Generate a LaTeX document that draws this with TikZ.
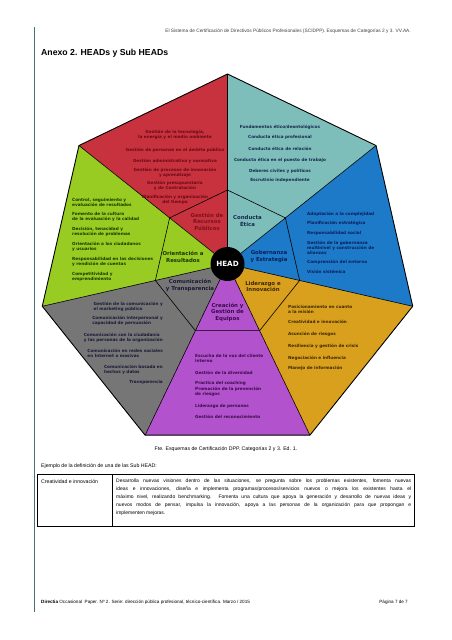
\documentclass[tikz,border=0pt]{standalone}
\usepackage{fontspec}
\setmainfont{Liberation Sans}
\newfontfamily\verd{DejaVu Sans}
\usetikzlibrary{calc}
\definecolor{headred}{RGB}{200,50,62}
\definecolor{headteal}{RGB}{125,190,186}
\definecolor{headblue}{RGB}{28,122,200}
\definecolor{headorange}{RGB}{216,160,28}
\definecolor{headpurple}{RGB}{178,82,204}
\definecolor{headgray}{RGB}{118,118,118}
\definecolor{headgreen}{RGB}{153,204,34}
\definecolor{redtxt}{RGB}{105,10,20}
\definecolor{tealtxt}{RGB}{22,40,78}
\definecolor{bluetxt}{RGB}{10,30,90}
\definecolor{orangetxt}{RGB}{60,40,5}
\definecolor{purpletxt}{RGB}{58,10,75}
\definecolor{graytxt}{RGB}{25,25,55}
\definecolor{greentxt}{RGB}{25,55,0}
\definecolor{pagebar}{RGB}{70,110,125}

\begin{document}
\begin{tikzpicture}[x=1pt, y=-1pt,
    spoke/.style={line width=0.6pt},
    rim/.style={line width=0.9pt, line join=round},
    inlbl/.style={font=\verd\bfseries\fontsize{5.4}{6.5}\selectfont, align=center, inner sep=0pt},
    item/.style={font=\verd\bfseries\fontsize{4.2}{5.2}\selectfont, inner sep=0pt},
    centerlist/.style={item, align=center},
    leftlist/.style={item, anchor=west, align=left},
    rightlist/.style={item, anchor=east, align=left},
    page/.style={font=\fontsize{5.2}{8}\selectfont, inner sep=0pt}
]
\fill[white] (0,0) rectangle (452,640);
\useasboundingbox (0,0) rectangle (452,640);

\draw[pagebar, line width=0.8pt] (34,27) -- (34,612);
\node[page, anchor=east, text=black!75, font=\fontsize{4.8}{6}\selectfont] (header) at (411,31) {El Sistema de Certificación de Directivos Públicos Profesionales (SCIDPP). Esquemas de Categorías 2 y 3. VV.AA.};
\node[page, anchor=west, font=\bfseries\fontsize{8.7}{10}\selectfont] (title) at (41,53) {Anexo 2. HEADs y Sub HEADs};

\coordinate (C) at (227.5,264);
\foreach \k in {0,...,6}{
  \coordinate (O\k) at ($(C)+({-90-\k*360/7}:190)$);
  \coordinate (I\k) at ($(C)+({-90-\k*360/7}:74)$);
}
\foreach \k/\col in {0/headred,1/headgreen,2/headgray,3/headpurple,4/headorange,5/headblue,6/headteal}{
  \pgfmathtruncatemacro{\nx}{mod(\k+1,7)}
  \fill[\col] (C) -- (O\k) -- (O\nx) -- cycle;
}
\foreach \k in {0,...,6}
  \draw[spoke] (C) -- (O\k);
\draw[spoke] (I0) \foreach \k in {1,...,6}{ -- (I\k)} -- cycle;
\draw[rim] (O0) \foreach \k in {1,...,6}{ -- (O\k)} -- cycle;

\node[circle, fill=black, minimum size=34pt, inner sep=0pt, text=white, font=\verd\bfseries\fontsize{7.2}{8}\selectfont] (head) at (C) {HEAD};

\node[inlbl, text=redtxt!80!headred] (recursos) at (207,221.5) {Gestión de\\Recursos\\Públicos};
\node[inlbl, text=tealtxt] (etica) at (247.5,221) {Conducta\\Ética};
\node[inlbl, text=bluetxt] (gobernanza) at (269,256.5) {Gobernanza\\y Estrategia};
\node[inlbl, text=orangetxt] (liderazgo) at (263,286.5) {Liderazgo e\\Innovación};
\node[inlbl, text=purpletxt] (equipos) at (227.5,312) {Creación y\\Gestión de\\Equipos};
\node[inlbl, text=graytxt] (comunicacion) at (190,285.5) {Comunicación\\y Transparencia};
\node[inlbl, text=greentxt] (resultados) at (183,257) {Orientación a\\Resultados};

\node[centerlist, text=redtxt] (rp1) at (175,134.5) {Gestión de la tecnología,\\la energía y el medio ambiente};
\node[centerlist, text=redtxt] (rp2) at (175,150) {Gestión de personas en el ámbito público};
\node[centerlist, text=redtxt] (rp3) at (175,161) {Gestión administrativa y normativa};
\node[centerlist, text=redtxt] (rp4) at (175,173) {Gestión de procesos de innovación\\y aprendizaje};
\node[centerlist, text=redtxt] (rp5) at (175,185.5) {Gestión presupuestaria\\y de Contratación};
\node[centerlist, text=redtxt] (rp6) at (175,199.5) {Planificación y organización\\del tiempo};

\node[centerlist, text=tealtxt] (ce1) at (280,127) {Fundamentos ético/deontológicos};
\node[centerlist, text=tealtxt] (ce2) at (280,137) {Conducta ética profesional};
\node[centerlist, text=tealtxt] (ce3) at (280,149) {Conducta ética de relación};
\node[centerlist, text=tealtxt] (ce4) at (280,160) {Conducta ética en el puesto de trabajo};
\node[centerlist, text=tealtxt] (ce5) at (280,171) {Deberes civiles y políticos};
\node[centerlist, text=tealtxt] (ce6) at (280,180) {Escrutinio independiente};

\node[leftlist, text=greentxt] (or1) at (72,202.5) {Control, seguimiento y\\evaluación de resultados};
\node[leftlist, text=greentxt] (or2) at (72,216.5) {Fomento de la cultura\\de la evaluación y la calidad};
\node[leftlist, text=greentxt] (or3) at (72,231.5) {Decisión, tenacidad y\\resolución de problemas};
\node[leftlist, text=greentxt] (or4) at (72,246.5) {Orientación a los ciudadanos\\y usuarios};
\node[leftlist, text=greentxt] (or5) at (72,262) {Responsabilidad en las decisiones\\ y rendición de cuentas};
\node[leftlist, text=greentxt] (or6) at (72,276.5) {Competitividad y\\emprendimiento};

\node[leftlist, text=bluetxt] (ge1) at (307,214) {Adaptación a la complejidad};
\node[leftlist, text=bluetxt] (ge2) at (307,223) {Planificación estratégica};
\node[leftlist, text=bluetxt] (ge3) at (307,233) {Responsabilidad social};
\node[leftlist, text=bluetxt] (ge4) at (307,248) {Gestión de la gobernanza\\multinivel y construcción de\\alianzas};
\node[leftlist, text=bluetxt] (ge5) at (307,262) {Comprensión del entorno};
\node[leftlist, text=bluetxt] (ge6) at (307,272) {Visión sistémica};

\node[leftlist, text=orangetxt] (li1) at (288,309.5) {Posicionamiento en cuanto\\a la misión};
\node[leftlist, text=orangetxt] (li2) at (288,322) {Creatividad e innovación};
\node[leftlist, text=orangetxt] (li3) at (288,334) {Asunción de riesgos};
\node[leftlist, text=orangetxt] (li4) at (288,346) {Resiliencia y gestión de crisis};
\node[leftlist, text=orangetxt] (li5) at (288,358) {Negociación e influencia};
\node[leftlist, text=orangetxt] (li6) at (288,368) {Manejo de información};

\node[leftlist, text=purpletxt] (eq1) at (195,358.5) {Escucha de la voz del cliente\\interno};
\node[leftlist, text=purpletxt] (eq2) at (195,373) {Gestión de la diversidad};
\node[leftlist, text=purpletxt] (eq3) at (195,389) {Practica del coaching\\Promoción de la prevención\\de riesgos};
\node[leftlist, text=purpletxt] (eq4) at (195,406) {Liderazgo de personas};
\node[leftlist, text=purpletxt] (eq5) at (195,417) {Gestión del reconocimiento};

\node[rightlist, text=graytxt] (co1) at (163,306.5) {Gestión de la comunicación y\\el marketing público};
\node[rightlist, text=graytxt] (co2) at (163,321) {Comunicación interpersonal y\\capacidad de persuasión};
\node[rightlist, text=graytxt] (co3) at (163,338) {Comunicación con la ciudadanía\\y las personas de la organización};
\node[rightlist, text=graytxt] (co4) at (163,353.5) {Comunicación en redes sociales\\en Internet o masivas};
\node[rightlist, text=graytxt] (co5) at (163,370) {Comunicación basada en\\hechos y datos};
\node[rightlist, text=graytxt] (co6) at (163,382) {Transparencia};

\node[page] (fuente) at (226,449) {Fte. Esquemas de Certificación DPP. Categorías 2 y 3. Ed. 1.};
\node[page, anchor=west] (ejemplo) at (41,466) {Ejemplo de la definición de una de las Sub HEAD:};

\draw[line width=0.9pt] (37,474) rectangle (414,526);
\draw[line width=0.9pt] (112,474) -- (112,526);
\node[page, anchor=west] (subhead) at (41,482) {Creatividad e innovación};
\node[page, anchor=north west, align=left, font=\fontsize{5}{8}\selectfont] (definicion) at (116,479) {%
\makebox[295pt][s]{Desarrolla nuevas visiones dentro de las situaciones, se pregunta sobre los problemas existentes, fomenta nuevas}\\
\makebox[295pt][s]{ideas e innovaciones, diseña e implementa programas/procesos/servicios nuevos o mejora los existentes hasta el}\\
\makebox[295pt][s]{máximo nivel, realizando benchmarking. Fomenta una cultura que apoya la generación y desarrollo de nuevas ideas y}\\
\makebox[295pt][s]{nuevos modos de pensar, impulsa la innovación, apoya a las personas de la organización para que propongan e}\\
implementen mejoras.};

\node[page, anchor=west, font=\fontsize{4.6}{6}\selectfont] (pie) at (41,602) {\textbf{Directia} Occasional~ Paper. Nº 2. Serie: dirección pública profesional, técnico-científica. Marzo / 2015};
\node[page, anchor=east, font=\fontsize{4.6}{6}\selectfont] (pagina) at (408,602) {Página 7 de 7};
\end{tikzpicture}
\end{document}
